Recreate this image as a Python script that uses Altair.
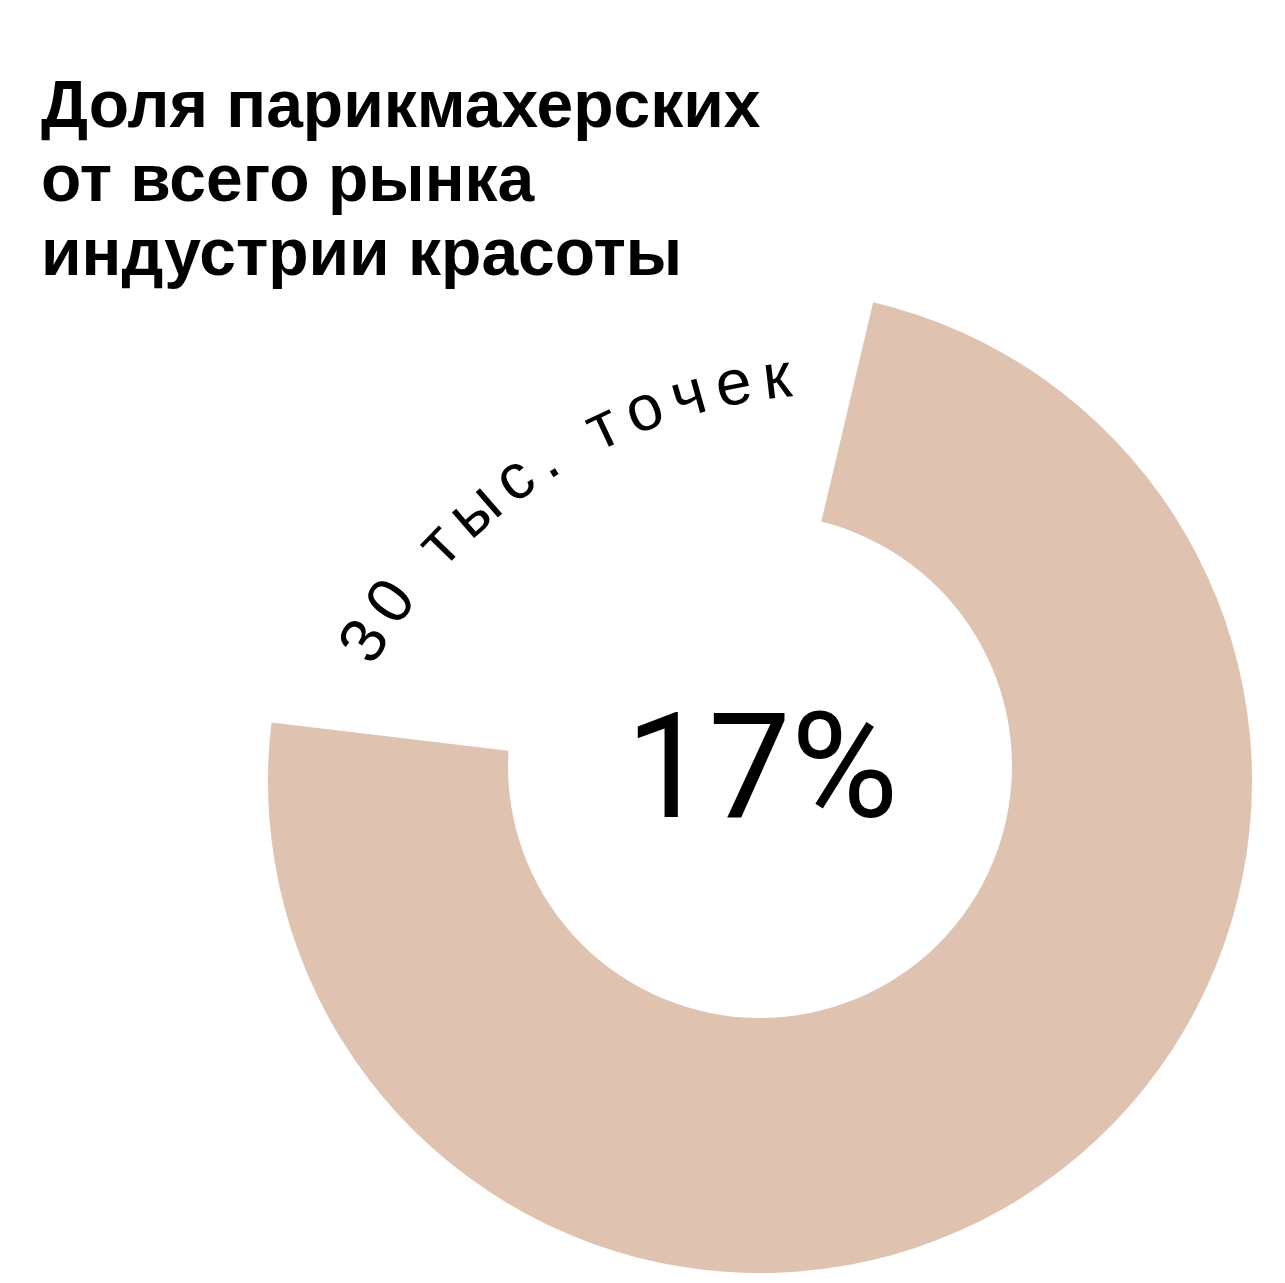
import math
import altair as alt
import pandas as pd

# ---------------- data ----------------
title_lines = ["Доля парикмахерских", "от всего рынка", "индустрии красоты"]
segments = ["Остальной рынок", "Парикмахерские"]
shares = [73.2, 26.8]          # shares of the ring as drawn (filled part / cut-out)
segment_order = [0, 1]
center_label = ["17%"]
arc_label = "30 тыс. точек"

# ---------------- layout / style ----------------
W, H = 1265, 1265
CX, CY = 752, 773          # centre of the wedge
R_OUT = 492
HX, HY, R_HOLE = 752, 758, 252   # centre / radius of the hole
START = math.radians(13.3)
FILL = "#DFC2B0"

TXT_CX, TXT_CY, TXT_R = 833, 924, 557
TXT_FS, TXT_LS = 64, 12
TXT_START = math.radians(-58.6)
# approximate advance widths (em) of the sans-serif glyphs used for the curved label
ADV = {"3": 0.556, "0": 0.556, " ": 0.278, "т": 0.458, "ы": 0.711, "с": 0.5,
       ".": 0.278, "о": 0.556, "ч": 0.522, "е": 0.556, "к": 0.438}

chars = list(arc_label)
thetas, rots = [], []
s = 0.0
for i, ch in enumerate(chars):
    if i > 0:
        s += (ADV.get(chars[i - 1], 0.55) + ADV.get(ch, 0.55)) / 2 * TXT_FS + TXT_LS
    t = TXT_START + s / TXT_R
    thetas.append(t)
    rots.append(math.degrees(t) % 360)

ring_df = pd.DataFrame({"segment": segments, "share": shares, "order": segment_order})
curve_df = pd.DataFrame({"ch": chars, "theta": thetas, "rot": rots})
center_df = pd.DataFrame({"label": center_label})
title_df = pd.DataFrame({"title": ["\n".join(title_lines)]})

ring = alt.Chart(ring_df).mark_arc(outerRadius=R_OUT, innerRadius=0).encode(
    x=alt.value(CX),
    y=alt.value(CY),
    theta=alt.Theta("share:Q", stack=True,
                    scale=alt.Scale(domain=[0, 100], range=[START, START + 2 * math.pi])),
    color=alt.Color("segment:N",
                    scale=alt.Scale(domain=segments, range=[FILL, "rgba(255,255,255,0)"]),
                    legend=None),
    order=alt.Order("order:Q"),
)

hole = alt.Chart(center_df).mark_arc(
    outerRadius=R_HOLE, innerRadius=0, theta=0, theta2=2 * math.pi, color="#ffffff"
).encode(x=alt.value(HX), y=alt.value(HY))

curve = alt.Chart(curve_df).mark_text(
    font="Liberation Sans", fontSize=TXT_FS, align="center", baseline="middle", color="#000000"
).encode(
    x=alt.value(TXT_CX),
    y=alt.value(TXT_CY),
    radius=alt.value(TXT_R),
    theta=alt.Theta("theta:Q", scale=None, stack=False),
    angle=alt.Angle("rot:Q", scale=None),
    text="ch:N",
)

center = alt.Chart(center_df).mark_text(
    font="Roboto", fontSize=147, align="center", baseline="alphabetic", color="#000000"
).encode(
    x=alt.value(754),
    y=alt.value(809),
    text="label:N",
)

title = alt.Chart(title_df).mark_text(
    color="#000000", font="Liberation Sans", fontSize=66, fontWeight="bold", align="left",
    baseline="alphabetic", lineBreak="\n", lineHeight=74
).encode(x=alt.value(33), y=alt.value(119), text="title:N")

chart = alt.layer(ring, hole, curve, center, title).properties(
    width=W,
    height=H,
    padding=0,
).configure_view(stroke=None)

chart.save("out.html", embed_options={"renderer": "svg", "actions": False})
